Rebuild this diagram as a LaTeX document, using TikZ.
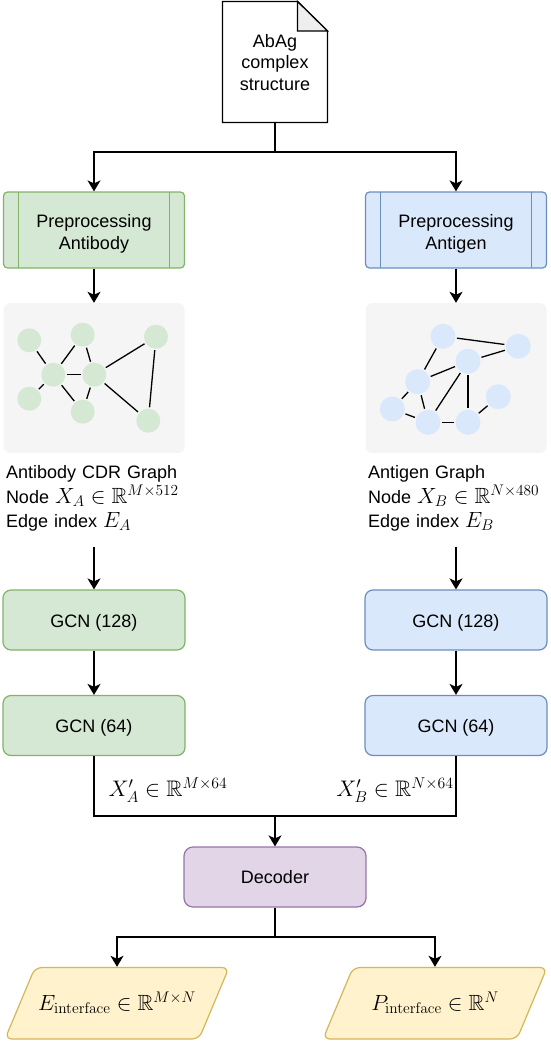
\documentclass[tikz,border=0pt]{standalone}
\usepackage{fix-cm}
\usepackage{amsmath,amssymb}
\usepackage[no-math]{fontspec}
\setmainfont{Liberation Sans}
\usetikzlibrary{arrows.meta,calc}
\definecolor{gfill}{HTML}{D5E8D4}\definecolor{gline}{HTML}{82B366}
\definecolor{bfill}{HTML}{DAE8FC}\definecolor{bline}{HTML}{6C8EBF}
\definecolor{pfill}{HTML}{E1D5E7}\definecolor{pline}{HTML}{9673A6}
\definecolor{yfill}{HTML}{FFF2CC}\definecolor{yline}{HTML}{D6B656}
\definecolor{panel}{HTML}{F5F5F5}\definecolor{foldc}{HTML}{EEEEEE}
\newcommand{\lowtext}[1]{\raisebox{-7pt}[0pt][0pt]{#1}}
\tikzset{
 txt/.style={font=\fontsize{18}{21.7}\selectfont,align=center,text=black},
 arr/.style={line width=1.4pt,black,-{Stealth[length=11pt,width=13pt,inset=3pt]}},
 lin/.style={line width=1.4pt,black},
 boxn/.style={txt,draw,line width=1.2pt,rounded corners=8pt,minimum width=182pt,minimum height=60pt,inner sep=0pt},
 gbox/.style={boxn,fill=gfill,draw=gline},
 bbox/.style={boxn,fill=bfill,draw=bline},
 pbox/.style={txt,draw=pline,fill=pfill,line width=1.2pt,rounded corners=9pt,minimum width=182pt,minimum height=60pt},
 prebox/.style={txt,draw,line width=1.2pt,rounded corners=4pt,minimum width=181pt,minimum height=76pt,inner sep=0pt},
 panelbox/.style={fill=panel,rounded corners=7pt,minimum width=181pt,minimum height=150pt,inner sep=0pt},
 gdot/.style={circle,fill=gfill,minimum size=24pt,inner sep=0pt,outer sep=1.5pt},
 bdot/.style={circle,fill=bfill,minimum size=25pt,inner sep=0pt,outer sep=1.5pt},
 edgeline/.style={line width=1.3pt,black},
 info/.style={font=\fontsize{18}{24.5}\selectfont,align=left,text width=176pt,inner sep=0pt,minimum height=96pt},
 mathlab/.style={font=\fontsize{22.5}{24}\selectfont,inner sep=0pt},
 para/.style={line width=1.2pt,rounded corners=7pt},
 ghostp/.style={font=\fontsize{22}{24}\selectfont,minimum width=224pt,minimum height=72pt,inner sep=0pt},
}
\begin{document}
\begin{tikzpicture}[x=1pt,y=-1pt]
\useasboundingbox (0,0) rectangle (550,1044);
% document
\node[minimum width=105pt,minimum height=121pt,inner sep=0pt] (doc) at (275,62) {};
\draw[lin,fill=white] (222.5,1.5) -- (297.5,1.5) -- (327.5,31) -- (327.5,122.5) -- (222.5,122.5) -- cycle;
\draw[line width=1.2pt,fill=foldc] (297.5,1.5) -- (327.5,31) -- (297.5,31) -- cycle;
\node[txt,inner sep=0pt] (doct) at (275,62.5) {AbAg\\complex\\structure};
% preprocessing
\node[prebox,fill=gfill,draw=gline] (preA) at (94,230) {};
\draw[gline,line width=1.2pt] (18.7,192) -- (18.7,268) (169.5,192) -- (169.5,268);
\node[txt,inner sep=0pt] (preAt) at (94,234) {Preprocessing\\Antibody};
\node[prebox,fill=bfill,draw=bline] (preB) at (456,230) {};
\draw[bline,line width=1.2pt] (380.5,192) -- (380.5,268) (531.5,192) -- (531.5,268);
\node[txt,inner sep=0pt] (preBt) at (456,234) {Preprocessing\\Antigen};
\coordinate (j1) at (275,152);
\draw[lin] (doc.south) -- (j1);
\draw[arr] (j1) -| (preA.north);
\draw[arr] (j1) -| (preB.north);
% panels
\node[panelbox] (panA) at (94,378) {};
\node[panelbox] (panB) at (456,378) {};
\draw[arr] (preA.south) -- (panA.north);
\draw[arr] (preB.south) -- (panB.north);
% graph A
\foreach \n/\x/\y in {a1/29.3/340.3,a2/82.7/334.7,a3/156/336.7,a4/53.3/374.7,a5/94.3/374.7,a6/29.3/398.7,a7/82.7/411.7,a8/148.3/420.7}
  \node[gdot] (\n) at (\x,\y) {};
\foreach \p/\q in {a1/a4,a2/a4,a2/a5,a4/a5,a3/a5,a3/a8,a5/a8,a4/a6,a4/a7,a5/a7}
  \draw[edgeline] (\p) -- (\q);
% graph B
\foreach \n/\x/\y in {b1/443/336.3,b2/518.3/346.3,b3/468/361.3,b4/417.7/381.7,b5/392.3/409,b6/428/422.3,b7/468/422.3,b8/498.3/396.7}
  \node[bdot] (\n) at (\x,\y) {};
\foreach \p/\q in {b1/b2,b1/b4,b2/b3,b3/b4,b3/b6,b3/b7,b4/b5,b4/b6,b5/b6,b6/b7,b7/b8}
  \draw[edgeline] (\p) -- (\q);
% info
\node[info] (infoA) at (94,498.5) {Antibody CDR Graph\\\mbox{Node {\fontsize{22}{24.5}\selectfont$\smash{X_A\in\mathbb{R}^{M\times 512}}$}}\\\mbox{Edge index {\fontsize{22}{24.5}\selectfont$\smash{E_A}$}}};
\node[info] (infoB) at (456,498.5) {Antigen Graph\\\mbox{Node {\fontsize{22}{24.5}\selectfont$\smash{X_B\in\mathbb{R}^{N\times 480}}$}}\\\mbox{Edge index {\fontsize{22}{24.5}\selectfont$\smash{E_B}$}}};
% GCN
\node[gbox] (g1) at (94,620) {\lowtext{GCN (128)}};
\node[gbox] (g2) at (94,725.5) {\lowtext{GCN (64)}};
\node[bbox] (h1) at (456,620) {\lowtext{GCN (128)}};
\node[bbox] (h2) at (456,725.5) {\lowtext{GCN (64)}};
\draw[arr] (infoA.south) -- (g1.north);
\draw[arr] (infoB.south) -- (h1.north);
\draw[arr] (g1) -- (g2);
\draw[arr] (h1) -- (h2);
\node[mathlab] (lA) at (168,790) {$X'_A\in\mathbb{R}^{M\times 64}$};
\node[mathlab] (lB) at (395,790) {$X'_B\in\mathbb{R}^{N\times 64}$};
% decoder
\node[pbox] (dec) at (275,877) {Decoder};
\coordinate (j2) at (275,816);
\draw[lin] (g2.south) |- (j2);
\draw[lin] (h2.south) |- (j2);
\draw[arr] (j2) -- (dec.north);
% outputs
\draw[para,draw=yline,fill=yfill] (35,967.5) -- (229,967.5) -- (199,1039) -- (5,1039) -- cycle;
\draw[para,draw=yline,fill=yfill] (353,967.5) -- (547,967.5) -- (517,1039) -- (323,1039) -- cycle;
\node[ghostp] (eo) at (117,1003) {$E_{\mathrm{interface}}\in\mathbb{R}^{M\times N}$};
\node[ghostp] (po) at (435,1003) {$P_{\mathrm{interface}}\in\mathbb{R}^{N}$};
\coordinate (j3) at (275,937);
\draw[lin] (dec.south) -- (j3);
\draw[arr] (j3) -| (eo.north);
\draw[arr] (j3) -| (po.north);
\end{tikzpicture}
\end{document}
